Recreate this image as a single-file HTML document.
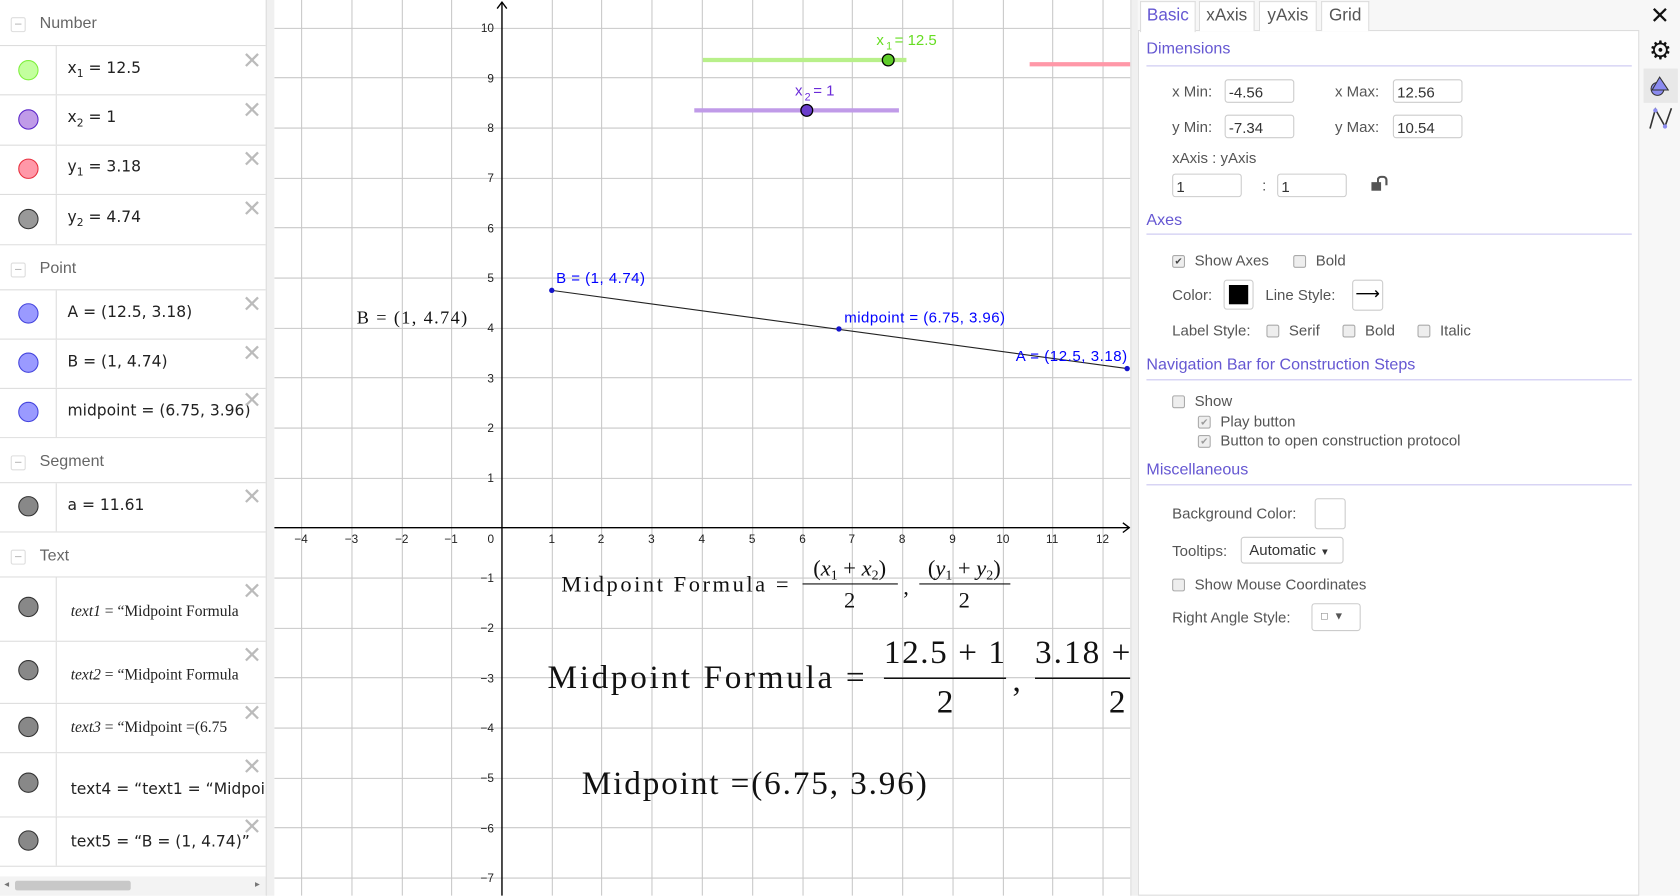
<!DOCTYPE html>
<html><head><meta charset="utf-8"><style>
html,body{margin:0;padding:0;background:#fff;overflow:hidden;}
#w{position:absolute;left:0;top:0;width:1568px;height:836px;transform:scale(1.0714286);transform-origin:0 0;font-family:"Liberation Sans","DejaVu Sans",sans-serif;}
.a{position:absolute;}
.hdr{position:absolute;left:0;width:248px;color:#666;font-size:15px;border-bottom:1px solid #ddd;background:#fff;}
.hdr span.m{position:absolute;left:10px;width:12px;height:12px;border:1px solid #ddd;border-radius:2px;}
.hdr span.m:after{content:"";position:absolute;left:3px;top:5px;width:6px;height:1px;background:#bbb;}
.row{position:absolute;left:0;width:248px;border-bottom:1px solid #ddd;font-size:14.5px;color:#222;overflow:hidden;white-space:nowrap;font-family:"DejaVu Sans","Liberation Sans",sans-serif;}
.row .c{position:absolute;left:17px;width:17px;height:17px;border-radius:50%;}
.row .v{position:absolute;left:52px;top:0;bottom:0;border-left:1px solid #ddd;}
.row .t{position:absolute;left:63px;}
.row .x{position:absolute;left:226px;color:#bbb;font-size:22px;font-weight:300;font-family:"Liberation Sans",sans-serif;}
.ser{font-family:"Liberation Serif","DejaVu Serif",serif;font-style:italic;}
.pl{color:#6557d2;font-size:15px;position:absolute;}
.lab{color:#555;font-size:14px;position:absolute;}
.inp{position:absolute;border:1px solid #ccc;border-radius:3px;height:22px;font-size:14px;color:#333;line-height:22px;padding-left:3px;box-sizing:border-box;background:#fff;}
.cb{position:absolute;width:10px;height:10px;border:1px solid #aaa;border-radius:2px;background:#eee;font-size:9px;line-height:10px;text-align:center;color:#444;}
</style></head><body><div id="w">
<div class="a" style="left:0;top:0;width:248px;height:836px;background:#fff;"></div>
<div class="hdr" style="top:0;height:42px;"><span class="m" style="top:16px"></span><span style="position:absolute;left:37px;top:13px">Number</span></div>
<div class="row" style="top:42px;height:46px"><span class="c" style="top:14px;background:#c3ff9e;border:1px solid #7ef03c"></span><span class="v"></span><span class="t" style="top:14px">x<sub style="font-size:10px">1</sub> = 12.5</span><span class="x" style="top:2px">✕</span></div>
<div class="row" style="top:89px;height:46px"><span class="c" style="top:13px;background:#c09be8;border:1px solid #5b26c9"></span><span class="v"></span><span class="t" style="top:13px">x<sub style="font-size:10px">2</sub> = 1</span><span class="x" style="top:1px">✕</span></div>
<div class="row" style="top:136px;height:45px"><span class="c" style="top:12px;background:#ff98a8;border:1px solid #e8303f"></span><span class="v"></span><span class="t" style="top:12px">y<sub style="font-size:10px">1</sub> = 3.18</span><span class="x" style="top:0px">✕</span></div>
<div class="row" style="top:182px;height:46px"><span class="c" style="top:13px;background:#999;border:1px solid #333"></span><span class="v"></span><span class="t" style="top:13px">y<sub style="font-size:10px">2</sub> = 4.74</span><span class="x" style="top:0px">✕</span></div>
<div class="hdr" style="top:229px;height:41px;"><span class="m" style="top:16px"></span><span style="position:absolute;left:37px;top:13px">Point</span></div>
<div class="row" style="top:271px;height:45px"><span class="c" style="top:12px;background:#9a9aff;border:1px solid #4444dd"></span><span class="v"></span><span class="t" style="top:13px">A = (12.5, 3.18)</span><span class="x" style="top:0px">✕</span></div>
<div class="row" style="top:317px;height:45px"><span class="c" style="top:12px;background:#9a9aff;border:1px solid #4444dd"></span><span class="v"></span><span class="t" style="top:13px">B = (1, 4.74)</span><span class="x" style="top:0px">✕</span></div>
<div class="row" style="top:363px;height:45px"><span class="c" style="top:12px;background:#9a9aff;border:1px solid #4444dd"></span><span class="v"></span><span class="t" style="top:13px">midpoint = (6.75, 3.96)</span><span class="x" style="top:-2px">✕</span></div>
<div class="hdr" style="top:409px;height:41px;"><span class="m" style="top:16px"></span><span style="position:absolute;left:37px;top:13px">Segment</span></div>
<div class="row" style="top:451px;height:45px"><span class="c" style="top:12px;background:#888;border:1px solid #333"></span><span class="v"></span><span class="t" style="top:13px">a = 11.61</span><span class="x" style="top:0px">✕</span></div>
<div class="hdr" style="top:497px;height:41px;"><span class="m" style="top:16px"></span><span style="position:absolute;left:37px;top:13px">Text</span></div>
<div class="row" style="top:539px;height:59px"><span class="c" style="top:18px;background:#888;border:1px solid #333"></span><span class="v"></span><span class="t ser" style="top:24px;left:66px">text1 <span style="font-style:normal">= “Midpoint Formula</span></span><span class="x" style="top:0px">✕</span></div>
<div class="row" style="top:599px;height:57px"><span class="c" style="top:17px;background:#888;border:1px solid #333"></span><span class="v"></span><span class="t ser" style="top:23px;left:66px">text2 <span style="font-style:normal">= “Midpoint Formula</span></span><span class="x" style="top:0px">✕</span></div>
<div class="row" style="top:657px;height:45px"><span class="c" style="top:12px;background:#888;border:1px solid #333"></span><span class="v"></span><span class="t ser" style="top:14px;left:66px">text3 <span style="font-style:normal">= “Midpoint =(6.75</span></span><span class="x" style="top:-4px">✕</span></div>
<div class="row" style="top:703px;height:59px"><span class="c" style="top:18px;background:#888;border:1px solid #333"></span><span class="v"></span><span class="t" style="top:26px;left:66px">text4 = “text1 = “Midpoint</span><span class="x" style="top:0px">✕</span></div>
<div class="row" style="top:763px;height:45px"><span class="c" style="top:12px;background:#888;border:1px solid #333"></span><span class="v"></span><span class="t" style="top:15px;left:66px">text5 = “B = (1, 4.74)”</span><span class="x" style="top:-4px">✕</span></div>
<div class="a" style="left:0;top:818px;width:248px;height:18px;background:#f3f3f3;"></div>
<div class="a" style="left:14px;top:822px;width:108px;height:9px;background:#c8c8c8;border-radius:2px;"></div>
<div class="a" style="left:4px;top:820px;font-size:9px;color:#777">◂</div><div class="a" style="left:238px;top:820px;font-size:9px;color:#777">▸</div>
<div class="a" style="left:248px;top:0;width:8px;height:836px;background:#f0f0f0;border-left:1px solid #ddd;box-sizing:border-box"></div>
<svg class="a" style="left:256px;top:0" width="799" height="836" viewBox="256 0 799 836" font-family="Liberation Sans, sans-serif">
<g stroke="#c8c8c8" stroke-width="1">
<line x1="281.5" y1="0" x2="281.5" y2="836"/><line x1="328.5" y1="0" x2="328.5" y2="836"/><line x1="375.5" y1="0" x2="375.5" y2="836"/><line x1="421.5" y1="0" x2="421.5" y2="836"/><line x1="515.5" y1="0" x2="515.5" y2="836"/><line x1="561.5" y1="0" x2="561.5" y2="836"/><line x1="608.5" y1="0" x2="608.5" y2="836"/><line x1="655.5" y1="0" x2="655.5" y2="836"/><line x1="702.5" y1="0" x2="702.5" y2="836"/><line x1="749.5" y1="0" x2="749.5" y2="836"/><line x1="795.5" y1="0" x2="795.5" y2="836"/><line x1="842.5" y1="0" x2="842.5" y2="836"/><line x1="889.5" y1="0" x2="889.5" y2="836"/><line x1="936.5" y1="0" x2="936.5" y2="836"/><line x1="982.5" y1="0" x2="982.5" y2="836"/><line x1="1029.5" y1="0" x2="1029.5" y2="836"/>
<line x1="256" y1="26.5" x2="1055" y2="26.5"/><line x1="256" y1="72.5" x2="1055" y2="72.5"/><line x1="256" y1="119.5" x2="1055" y2="119.5"/><line x1="256" y1="166.5" x2="1055" y2="166.5"/><line x1="256" y1="212.5" x2="1055" y2="212.5"/><line x1="256" y1="259.5" x2="1055" y2="259.5"/><line x1="256" y1="306.5" x2="1055" y2="306.5"/><line x1="256" y1="352.5" x2="1055" y2="352.5"/><line x1="256" y1="399.5" x2="1055" y2="399.5"/><line x1="256" y1="446.5" x2="1055" y2="446.5"/><line x1="256" y1="539.5" x2="1055" y2="539.5"/><line x1="256" y1="586.5" x2="1055" y2="586.5"/><line x1="256" y1="632.5" x2="1055" y2="632.5"/><line x1="256" y1="679.5" x2="1055" y2="679.5"/><line x1="256" y1="726.5" x2="1055" y2="726.5"/><line x1="256" y1="772.5" x2="1055" y2="772.5"/><line x1="256" y1="819.5" x2="1055" y2="819.5"/>
</g>
<g stroke="#000" stroke-width="1.3" fill="none">
<line x1="256" y1="492.5" x2="1054" y2="492.5"/><line x1="468.5" y1="2" x2="468.5" y2="836"/>
<path d="M1048,488 L1054,492.5 L1048,497"/><path d="M464,8 L468.5,2 L473,8"/>
</g>
<g font-size="11" fill="#222" text-anchor="middle">
<text x="281" y="507">−4</text><text x="328" y="507">−3</text><text x="375" y="507">−2</text><text x="421" y="507">−1</text><text x="458" y="507">0</text><text x="515" y="507">1</text><text x="561" y="507">2</text><text x="608" y="507">3</text><text x="655" y="507">4</text><text x="702" y="507">5</text><text x="749" y="507">6</text><text x="795" y="507">7</text><text x="842" y="507">8</text><text x="889" y="507">9</text><text x="936" y="507">10</text><text x="982" y="507">11</text><text x="1029" y="507">12</text>
</g>
<g font-size="11" fill="#222" text-anchor="end">
<text x="461" y="30">10</text><text x="461" y="77">9</text><text x="461" y="123">8</text><text x="461" y="170">7</text><text x="461" y="217">6</text><text x="461" y="263">5</text><text x="461" y="310">4</text><text x="461" y="357">3</text><text x="461" y="403">2</text><text x="461" y="450">1</text><text x="461" y="543">−1</text><text x="461" y="590">−2</text><text x="461" y="637">−3</text><text x="461" y="683">−4</text><text x="461" y="730">−5</text><text x="461" y="777">−6</text><text x="461" y="823">−7</text>
</g>
<line x1="656" y1="56" x2="846" y2="56" stroke="#b8f08a" stroke-width="4"/>
<circle cx="829" cy="56" r="5.5" fill="#5fcc2a" stroke="#000" stroke-width="1.2"/>
<text x="818" y="42" fill="#66dd22" font-size="14">x</text><text x="827" y="46" fill="#66dd22" font-size="10">1</text><text x="835" y="42" fill="#66dd22" font-size="14">= 12.5</text>
<line x1="648" y1="103" x2="839" y2="103" stroke="#c09be8" stroke-width="4"/>
<circle cx="753" cy="103" r="5.5" fill="#6a3dcc" stroke="#000" stroke-width="1.2"/>
<text x="742" y="89" fill="#6a2ad8" font-size="14">x</text><text x="751" y="94" fill="#6a2ad8" font-size="10">2</text><text x="759" y="89" fill="#6a2ad8" font-size="14">= 1</text>
<line x1="961" y1="60" x2="1055" y2="60" stroke="#ff98a8" stroke-width="4"/>
<line x1="515" y1="271" x2="1052" y2="344" stroke="#222" stroke-width="1"/>
<circle cx="515" cy="271" r="2.5" fill="#1515cc"/><circle cx="783" cy="307" r="2.5" fill="#1515cc"/><circle cx="1052" cy="344" r="2.5" fill="#1515cc"/>
<g fill="#0000ff" font-size="14"><text x="519" y="264" textLength="83">B = (1, 4.74)</text><text x="788" y="301" textLength="150">midpoint = (6.75, 3.96)</text><text x="948" y="337" textLength="104">A = (12.5, 3.18)</text></g>
<g font-family="Liberation Serif, DejaVu Serif, serif" fill="#111">
<text x="333" y="302" font-size="17" textLength="103">B = (1, 4.74)</text>
<text x="524" y="552" font-size="21" textLength="212">Midpoint Formula =</text>
<text x="793" y="537" font-size="21" text-anchor="middle">(<tspan font-style="italic">x</tspan><tspan font-size="13" dy="4">1</tspan><tspan dy="-4"> + </tspan><tspan font-style="italic">x</tspan><tspan font-size="13" dy="4">2</tspan><tspan dy="-4">)</tspan></text>
<line x1="749" y1="545" x2="838" y2="545" stroke="#111" stroke-width="1"/>
<text x="793" y="567" font-size="21" text-anchor="middle">2</text>
<text x="843" y="555" font-size="21">,</text>
<text x="900" y="537" font-size="21" text-anchor="middle">(<tspan font-style="italic">y</tspan><tspan font-size="13" dy="4">1</tspan><tspan dy="-4"> + </tspan><tspan font-style="italic">y</tspan><tspan font-size="13" dy="4">2</tspan><tspan dy="-4">)</tspan></text>
<line x1="858" y1="545" x2="943" y2="545" stroke="#111" stroke-width="1"/>
<text x="900" y="567" font-size="21" text-anchor="middle">2</text>
<text x="511" y="642" font-size="31" textLength="296">Midpoint Formula =</text>
<text x="825" y="619" font-size="31" textLength="113">12.5 + 1</text>
<line x1="825" y1="633" x2="939" y2="633" stroke="#111" stroke-width="1.4"/>
<text x="882" y="665" font-size="31" text-anchor="middle">2</text>
<text x="945" y="645" font-size="31">,</text>
<text x="966" y="619" font-size="31" textLength="89">3.18 +</text>
<line x1="966" y1="633" x2="1055" y2="633" stroke="#111" stroke-width="1.4"/>
<text x="1035" y="665" font-size="31">2</text>
<text x="543" y="741" font-size="31" textLength="322">Midpoint =(6.75, 3.96)</text>
</g>
</svg>
<div class="a" style="left:1055px;top:0;width:7px;height:836px;background:#f0f0f0;border-left:1px solid #ddd;box-sizing:border-box"></div>
<div class="a" style="left:1062px;top:0;width:506px;height:836px;background:#f7f7f7;"></div>
<div class="a" style="left:1062px;top:28px;width:468px;height:808px;background:#fff;border:1px solid #ddd;box-sizing:border-box"></div>
<div class="a" style="left:1064px;top:1px;width:50px;height:28px;background:#fff;border:1px solid #ddd;border-bottom:none;color:#6557d2;font-size:16px;text-align:center;line-height:26px">Basic</div>
<div class="a" style="left:1119px;top:1px;width:50px;height:27px;background:#fff;border:1px solid #ddd;border-bottom:none;color:#555;font-size:16px;text-align:center;line-height:26px">xAxis</div>
<div class="a" style="left:1175px;top:1px;width:52px;height:27px;background:#fff;border:1px solid #ddd;border-bottom:none;color:#555;font-size:16px;text-align:center;line-height:26px">yAxis</div>
<div class="a" style="left:1233px;top:1px;width:43px;height:27px;background:#fff;border:1px solid #ddd;border-bottom:none;color:#555;font-size:16px;text-align:center;line-height:26px">Grid</div>
<div class="pl" style="left:1070px;top:37px">Dimensions</div><div class="a" style="left:1070px;top:61px;width:453px;height:1px;background:#c8c4f0"></div>
<div class="lab" style="left:1094px;top:77px">x Min:</div><div class="inp" style="left:1143px;top:74px;width:65px">-4.56</div>
<div class="lab" style="left:1246px;top:77px">x Max:</div><div class="inp" style="left:1300px;top:74px;width:65px">12.56</div>
<div class="lab" style="left:1094px;top:110px">y Min:</div><div class="inp" style="left:1143px;top:107px;width:65px">-7.34</div>
<div class="lab" style="left:1246px;top:110px">y Max:</div><div class="inp" style="left:1300px;top:107px;width:65px">10.54</div>
<div class="lab" style="left:1094px;top:139px">xAxis : yAxis</div>
<div class="inp" style="left:1094px;top:162px;width:65px">1</div><div class="lab" style="left:1178px;top:165px">:</div><div class="inp" style="left:1192px;top:162px;width:65px">1</div>
<div class="a" style="left:1280px;top:170px;width:9px;height:8px;background:#555"></div><div class="a" style="left:1285px;top:164px;width:6px;height:7px;border:2px solid #555;border-bottom:none;border-radius:4px 4px 0 0"></div>
<div class="pl" style="left:1070px;top:197px">Axes</div><div class="a" style="left:1070px;top:218px;width:453px;height:1px;background:#c8c4f0"></div>
<div class="cb" style="left:1094px;top:238px">✔</div><div class="lab" style="left:1115px;top:235px">Show Axes</div>
<div class="cb" style="left:1207px;top:238px"></div><div class="lab" style="left:1228px;top:235px">Bold</div>
<div class="lab" style="left:1094px;top:267px">Color:</div><div class="a" style="left:1142px;top:261px;width:28px;height:28px;border:1px solid #ccc;border-radius:3px;box-sizing:border-box;background:#fff"><div style="margin:4px;width:18px;height:18px;background:#000"></div></div>
<div class="lab" style="left:1181px;top:267px">Line Style:</div><div class="a" style="left:1262px;top:261px;width:29px;height:29px;border:1px solid #ccc;border-radius:3px;box-sizing:border-box;background:#fff;font-size:16px;text-align:center;line-height:26px">⟶</div>
<div class="lab" style="left:1094px;top:300px">Label Style:</div>
<div class="cb" style="left:1182px;top:303px"></div><div class="lab" style="left:1203px;top:300px">Serif</div>
<div class="cb" style="left:1253px;top:303px"></div><div class="lab" style="left:1274px;top:300px">Bold</div>
<div class="cb" style="left:1323px;top:303px"></div><div class="lab" style="left:1344px;top:300px">Italic</div>
<div class="pl" style="left:1070px;top:332px">Navigation Bar for Construction Steps</div><div class="a" style="left:1070px;top:354px;width:453px;height:1px;background:#c8c4f0"></div>
<div class="cb" style="left:1094px;top:369px"></div><div class="lab" style="left:1115px;top:366px">Show</div>
<div class="cb" style="left:1118px;top:388px;color:#999">✔</div><div class="lab" style="left:1139px;top:385px">Play button</div>
<div class="cb" style="left:1118px;top:406px;color:#999">✔</div><div class="lab" style="left:1139px;top:403px">Button to open construction protocol</div>
<div class="pl" style="left:1070px;top:430px">Miscellaneous</div><div class="a" style="left:1070px;top:452px;width:453px;height:1px;background:#c8c4f0"></div>
<div class="lab" style="left:1094px;top:471px">Background Color:</div><div class="a" style="left:1227px;top:465px;width:29px;height:29px;border:1px solid #ccc;border-radius:3px;box-sizing:border-box;background:#fff"></div>
<div class="lab" style="left:1094px;top:506px">Tooltips:</div><div class="a" style="left:1158px;top:501px;width:96px;height:25px;border:1px solid #ccc;border-radius:3px;box-sizing:border-box;font-size:14px;color:#333;padding:3px 0 0 7px">Automatic <span style="font-size:9px">▼</span></div>
<div class="cb" style="left:1094px;top:540px"></div><div class="lab" style="left:1115px;top:537px">Show Mouse Coordinates</div>
<div class="lab" style="left:1094px;top:568px">Right Angle Style:</div><div class="a" style="left:1224px;top:563px;width:46px;height:26px;border:1px solid #ccc;border-radius:3px;box-sizing:border-box;font-size:10px;color:#555;padding:6px 0 0 8px">□ &nbsp;▼</div>
<div class="a" style="left:1540px;top:2px;font-size:22px;color:#111">✕</div>
<div class="a" style="left:1539px;top:33px;font-size:24px;color:#111">⚙</div>
<div class="a" style="left:1534px;top:64px;width:32px;height:32px;background:#e8e8e8"></div>
<svg class="a" style="left:1536px;top:66px" width="28" height="28"><circle cx="11" cy="17" r="6" fill="#8b8bf0" stroke="#333"/><path d="M13 6 L21 18 L6 18 Z" fill="#8b8bf0" stroke="#333"/></svg>
<svg class="a" style="left:1536px;top:98px" width="28" height="28"><path d="M4 22 L9 4 L18 20 L24 3" fill="none" stroke="#333" stroke-width="1.5"/><circle cx="9" cy="5" r="2" fill="#8b8bf0"/><circle cx="18" cy="20" r="2" fill="#8b8bf0"/></svg>
</div></body></html>
